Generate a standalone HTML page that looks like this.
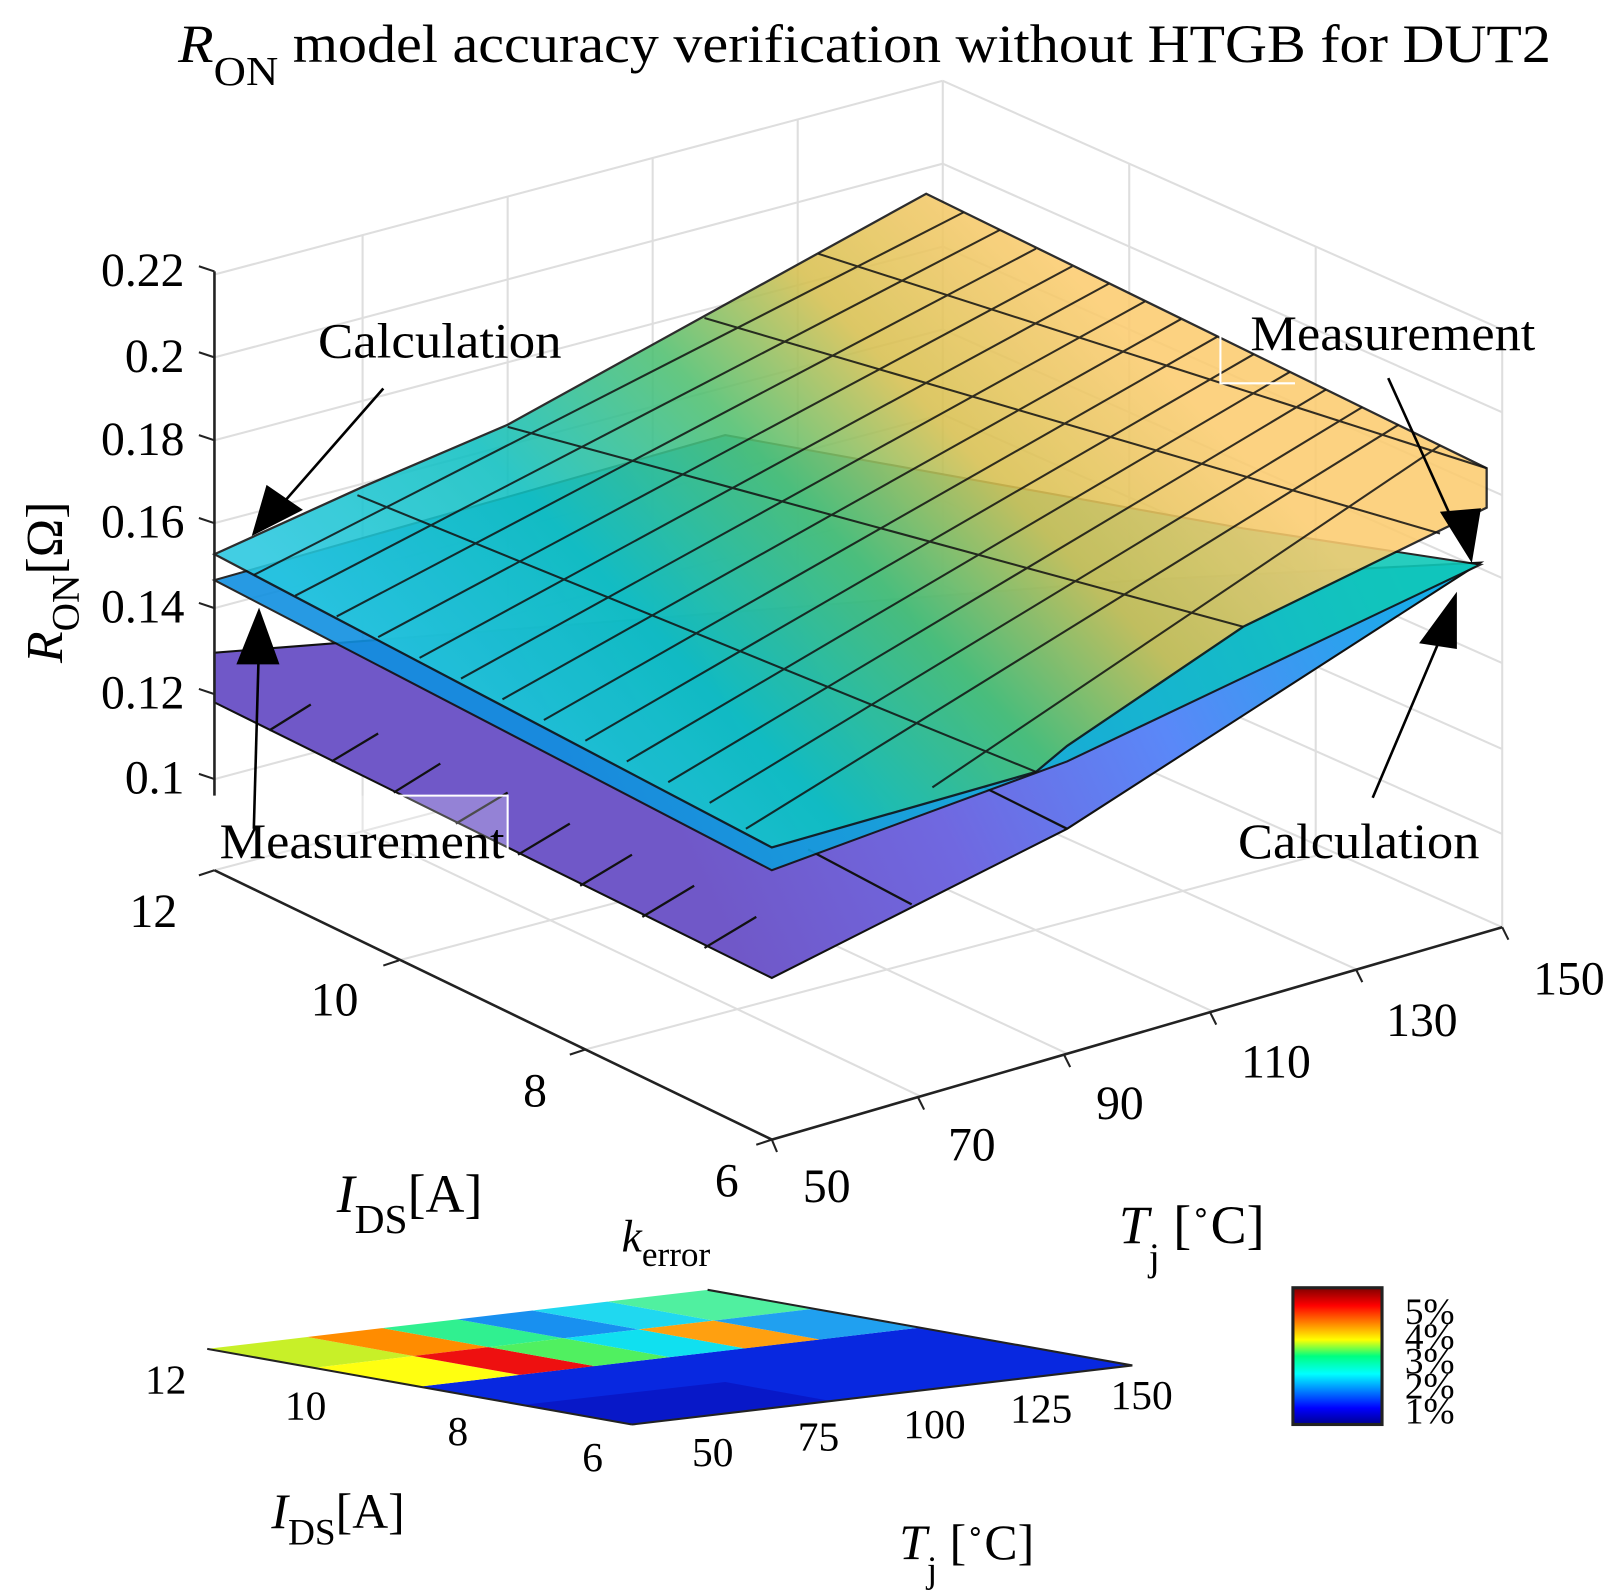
<!DOCTYPE html>
<html><head><meta charset="utf-8"><style>
html,body{margin:0;padding:0;background:#fff}
svg{display:block}
text{font-family:"Liberation Serif",serif;fill:#000}
</style></head><body>
<svg width="1623" height="1593" viewBox="0 0 1623 1593" xmlns="http://www.w3.org/2000/svg">
<defs>
<linearGradient id="gTop" gradientUnits="userSpaceOnUse" x1="500" y1="800" x2="1050" y2="280">
<stop offset="0" stop-color="#28c8e0"/><stop offset="0.3" stop-color="#10c0c0"/><stop offset="0.55" stop-color="#50c070"/><stop offset="0.75" stop-color="#d8c050"/><stop offset="1" stop-color="#fccc70"/>
</linearGradient>
<linearGradient id="gMid" gradientUnits="userSpaceOnUse" x1="600" y1="850" x2="1300" y2="520">
<stop offset="0" stop-color="#1090e0"/><stop offset="0.5" stop-color="#10b0d8"/><stop offset="1" stop-color="#10c8b8"/>
</linearGradient>
<linearGradient id="gLow" gradientUnits="userSpaceOnUse" x1="700" y1="900" x2="1400" y2="560">
<stop offset="0" stop-color="#7058c8"/><stop offset="0.3" stop-color="#7068e0"/><stop offset="0.6" stop-color="#5a88f8"/><stop offset="1" stop-color="#10b0e8"/>
</linearGradient>
<linearGradient id="cbar" x1="0" y1="1" x2="0" y2="0">
<stop offset="0" stop-color="#00008f"/><stop offset="0.12" stop-color="#0000ff"/><stop offset="0.37" stop-color="#00ffff"/><stop offset="0.5" stop-color="#00ff80"/><stop offset="0.62" stop-color="#ffff00"/><stop offset="0.87" stop-color="#ff0000"/><stop offset="1" stop-color="#800000"/>
</linearGradient>
</defs>
<g transform="scale(1.036)">
<!-- grid -->
<g stroke="#dedede" stroke-width="2" fill="none">
<line x1="207" y1="265" x2="910" y2="78"/><line x1="910" y1="78" x2="1450" y2="318"/>
<line x1="910" y1="78" x2="910" y2="655"/>
<line x1="350" y1="227" x2="350" y2="802"/><line x1="490" y1="190" x2="490" y2="765"/><line x1="630" y1="152" x2="630" y2="728"/><line x1="770" y1="115" x2="770" y2="692"/>
<line x1="1090" y1="158" x2="1090" y2="735"/><line x1="1270" y1="238" x2="1270" y2="815"/><line x1="1450" y1="318" x2="1450" y2="895"/>
<line x1="207" y1="345" x2="910" y2="158"/><line x1="207" y1="425" x2="910" y2="238"/><line x1="207" y1="505" x2="910" y2="318"/><line x1="207" y1="587" x2="910" y2="400"/><line x1="207" y1="670" x2="910" y2="483"/><line x1="207" y1="752" x2="910" y2="565"/>
<line x1="910" y1="158" x2="1450" y2="398"/><line x1="910" y1="238" x2="1450" y2="478"/><line x1="910" y1="318" x2="1450" y2="558"/><line x1="910" y1="400" x2="1450" y2="640"/><line x1="910" y1="483" x2="1450" y2="723"/><line x1="910" y1="565" x2="1450" y2="805"/>
<line x1="207" y1="840" x2="910" y2="655"/><line x1="910" y1="655" x2="1450" y2="895"/>
<line x1="385" y1="927" x2="1090" y2="740"/><line x1="565" y1="1013" x2="1270" y2="826"/>
<line x1="888" y1="1058" x2="350" y2="802"/><line x1="1030" y1="1017" x2="490" y2="765"/><line x1="1170" y1="976" x2="630" y2="728"/><line x1="1310" y1="936" x2="770" y2="692"/>
</g>
<!-- lower purple surface -->
<polygon points="207,630 207,678 745,944 1030,800 1429,543 1100,560" fill="url(#gLow)" stroke="#111" stroke-width="2"/>
<g stroke="#111" stroke-width="2.2">
<line x1="260" y1="705" x2="300" y2="680"/><line x1="320" y1="735" x2="365" y2="708"/><line x1="380" y1="765" x2="425" y2="737"/><line x1="440" y1="795" x2="490" y2="765"/><line x1="500" y1="825" x2="550" y2="795"/><line x1="560" y1="855" x2="610" y2="825"/><line x1="620" y1="885" x2="670" y2="855"/><line x1="680" y1="915" x2="730" y2="885"/>
<line x1="880" y1="873" x2="780" y2="820"/><line x1="1030" y1="800" x2="950" y2="760"/>
</g>
<!-- middle surface -->
<polygon points="207,560 745,840 1030,735 1429,545 1200,510 700,420" fill="url(#gMid)" stroke="#111" stroke-width="2" opacity="0.9"/>
<!-- top surface -->
<polygon points="207,535 350,470 490,410 680,305 894,187 1435,452 1435,490 1200,605 1030,720 1000,745 745,818" fill="url(#gTop)" stroke="#111" stroke-width="2.2" opacity="0.88"/>
<g stroke="#111" stroke-width="2" opacity="0.85">
<line x1="245" y1="555" x2="930" y2="205"/><line x1="285" y1="575" x2="965" y2="222"/><line x1="325" y1="595" x2="1000" y2="240"/><line x1="365" y1="615" x2="1035" y2="257"/><line x1="405" y1="635" x2="1070" y2="274"/><line x1="445" y1="655" x2="1105" y2="291"/><line x1="485" y1="675" x2="1140" y2="308"/><line x1="525" y1="695" x2="1175" y2="325"/><line x1="565" y1="715" x2="1210" y2="342"/><line x1="605" y1="735" x2="1245" y2="359"/><line x1="645" y1="755" x2="1280" y2="376"/><line x1="685" y1="775" x2="1315" y2="393"/><line x1="720" y1="800" x2="1350" y2="410"/><line x1="900" y1="760" x2="1390" y2="430"/>
<line x1="345" y1="478" x2="1000" y2="745"/><line x1="490" y1="412" x2="1200" y2="605"/><line x1="680" y1="307" x2="1390" y2="515"/><line x1="790" y1="245" x2="1435" y2="452"/>
</g>
<!-- axes -->
<g stroke="#222" stroke-width="2.5" fill="none">
<line x1="207" y1="262" x2="207" y2="768"/><line x1="207" y1="840" x2="745" y2="1100"/><line x1="745" y1="1100" x2="1450" y2="895"/>
</g>
<g stroke="#222" stroke-width="2">
<line x1="192" y1="257" x2="207" y2="262"/><line x1="192" y1="340" x2="207" y2="345"/><line x1="192" y1="420" x2="207" y2="425"/><line x1="192" y1="500" x2="207" y2="505"/><line x1="192" y1="582" x2="207" y2="587"/><line x1="192" y1="665" x2="207" y2="670"/><line x1="192" y1="747" x2="207" y2="752"/>
<line x1="207" y1="840" x2="192" y2="845"/><line x1="385" y1="927" x2="370" y2="932"/><line x1="565" y1="1013" x2="550" y2="1018"/><line x1="745" y1="1100" x2="730" y2="1105"/>
<line x1="745" y1="1100" x2="750" y2="1112"/><line x1="886" y1="1059" x2="892" y2="1071"/><line x1="1027" y1="1018" x2="1033" y2="1030"/><line x1="1168" y1="977" x2="1174" y2="989"/><line x1="1309" y1="936" x2="1315" y2="948"/><line x1="1450" y1="895" x2="1456" y2="907"/>
</g>
<g font-size="46" text-anchor="end">
<text x="178" y="276">0.22</text><text x="178" y="359">0.2</text><text x="178" y="439">0.18</text><text x="178" y="519">0.16</text><text x="178" y="601">0.14</text><text x="178" y="684">0.12</text><text x="178" y="766">0.1</text>
</g>
<g font-size="46">
<text x="125" y="895">12</text><text x="300" y="980">10</text><text x="505" y="1068">8</text><text x="690" y="1155">6</text>
<text x="775" y="1160">50</text><text x="915" y="1120">70</text><text x="1058" y="1080">90</text><text x="1198" y="1040">110</text><text x="1338" y="1000">130</text><text x="1480" y="960">150</text>
</g>
<text x="172" y="60" font-size="52" textLength="1325" lengthAdjust="spacingAndGlyphs"><tspan font-style="italic">R</tspan><tspan font-size="40" dy="22">ON</tspan><tspan dy="-22"> model accuracy verification without HTGB for DUT2</tspan></text>
<text transform="translate(60,640) rotate(-90)" font-size="50"><tspan font-style="italic">R</tspan><tspan font-size="38" dy="16">ON</tspan><tspan dy="-16">[Ω]</tspan></text>
<text x="325" y="1170" font-size="52"><tspan font-style="italic">I</tspan><tspan font-size="40" dy="20">DS</tspan><tspan dy="-20">[A]</tspan></text>
<text x="1080" y="1200" font-size="52"><tspan font-style="italic">T</tspan><tspan font-size="38" dy="26">j</tspan><tspan dy="-26"> [</tspan><tspan font-size="30" dy="-20">∘</tspan><tspan dy="20">C]</tspan></text>
<!-- annotations -->
<rect x="207" y="768" width="283" height="62" fill="#fff" opacity="0.25"/>
<polyline points="375,768 490,768 490,830" fill="none" stroke="#fff" stroke-width="2"/>
<text x="212" y="828" font-size="48" textLength="275" lengthAdjust="spacingAndGlyphs">Measurement</text>
<text x="307" y="345" font-size="48" textLength="235" lengthAdjust="spacingAndGlyphs">Calculation</text>
<polyline points="1178,320 1178,370 1250,370" fill="none" stroke="#fff" stroke-width="2"/>
<text x="1207" y="338" font-size="48" textLength="275" lengthAdjust="spacingAndGlyphs">Measurement</text>
<text x="1195" y="828" font-size="48" textLength="233" lengthAdjust="spacingAndGlyphs">Calculation</text>
<g stroke="#000" stroke-width="2.5" fill="#000">
<line x1="370" y1="375" x2="265" y2="495"/><polygon points="245,515 258,470 290,492"/>
<line x1="245" y1="800" x2="250" y2="620"/><polygon points="250,590 230,640 268,640"/>
<line x1="1340" y1="365" x2="1410" y2="520"/><polygon points="1420,540 1392,495 1428,492"/>
<line x1="1325" y1="770" x2="1395" y2="605"/><polygon points="1405,575 1372,620 1405,625"/>
</g>
<!-- inset grid -->
<g stroke="none">
<polygon points="405,1338.5 610,1375 1093,1318 888,1281.5" fill="#0828e0"/>
<polygon points="505,1356 610,1375 800,1352 700,1334" fill="#0818c8"/>
<polygon points="200,1302 296.6,1290.6 399.1,1308.9 302.5,1320.3" fill="#c8f028"/>
<polygon points="296.6,1290.6 369,1282 471.6,1300.3 399.1,1308.9" fill="#ff8c00"/>
<polygon points="369,1282 441.5,1273.5 544,1291.8 471.6,1300.3" fill="#30f090"/>
<polygon points="441.5,1273.5 514,1265 616.5,1283.2 544,1291.8" fill="#1890f0"/>
<polygon points="514,1265 586.4,1256.4 688.9,1274.7 616.5,1283.2" fill="#20d8f0"/>
<polygon points="586.4,1256.4 683,1245 785.5,1263.3 688.9,1274.7" fill="#50f0a0"/>
<polygon points="302.5,1320.3 399.1,1308.9 501.6,1327.1 405,1338.5" fill="#ffff10"/>
<polygon points="399.1,1308.9 471.6,1300.3 574,1318.6 501.6,1327.1" fill="#ee1010"/>
<polygon points="471.6,1300.3 544,1291.8 646.5,1310 574,1318.6" fill="#50f060"/>
<polygon points="544,1291.8 616.5,1283.2 719,1301.5 646.5,1310" fill="#10e0f0"/>
<polygon points="616.5,1283.2 688.9,1274.7 791.4,1292.9 719,1301.5" fill="#ffa010"/>
<polygon points="688.9,1274.7 785.5,1263.3 888,1281.5 791.4,1292.9" fill="#20a0f0"/>
</g>
<g stroke="#222" stroke-width="2" fill="none"><line x1="200" y1="1302" x2="610" y2="1375"/><line x1="610" y1="1375" x2="1093" y2="1318"/><line x1="683" y1="1245" x2="1093" y2="1318"/></g>
<g font-size="40">
<text x="140" y="1345">12</text><text x="275" y="1370">10</text><text x="432" y="1395">8</text><text x="562" y="1420">6</text>
<text x="668" y="1415">50</text><text x="770" y="1400">75</text><text x="872" y="1388">100</text><text x="975" y="1373">125</text><text x="1072" y="1360">150</text>
</g>
<text x="600" y="1208" font-size="44"><tspan font-style="italic">k</tspan><tspan font-size="34" dy="14">error</tspan></text>
<text x="262" y="1475" font-size="48"><tspan font-style="italic">I</tspan><tspan font-size="36" dy="16">DS</tspan><tspan dy="-16">[A]</tspan></text>
<text x="868" y="1505" font-size="48"><tspan font-style="italic">T</tspan><tspan font-size="36" dy="22">j</tspan><tspan dy="-22"> [</tspan><tspan font-size="28" dy="-18">∘</tspan><tspan dy="18">C]</tspan></text>
<rect x="1248" y="1243" width="86" height="132" fill="url(#cbar)" stroke="#222" stroke-width="3"/>
<g font-size="36"><text x="1356" y="1278">5%</text><text x="1356" y="1302">4%</text><text x="1356" y="1326">3%</text><text x="1356" y="1350">2%</text><text x="1356" y="1374">1%</text></g>
</g>
</svg>
</body></html>
